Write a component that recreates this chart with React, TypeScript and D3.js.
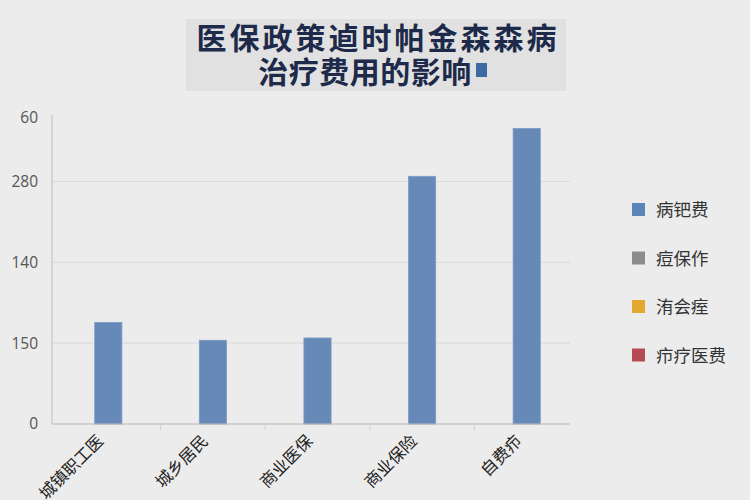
import React from 'react'
import * as d3 from 'd3'

// categories and bar values (in axis units, one gridline step = 140)
const categories = ['城镇职工医', '城乡居民', '商业医保', '商业保险', '自费疖']
const costs = [176, 145, 149, 429, 512]

// tick positions and the (odd) labels the chart shows at them
const tickValues = [0, 140, 280, 420, 530]
const tickLabels = ['0', '150', '140', '280', '60']

const legendNames = ['病钯费', '痘保作', '洧会痓', '疖疗医费']
const legendColors = ['#5b84b8', '#8c8c8c', '#e3a82e', '#b54a55']

const titleLines = ['医保政策逌时帕金森森病', '治疗费用的影响']

const W = 750
const H = 500
const margin = { top: 118, right: 171, bottom: 76, left: 52 }

const App: React.FC = () => {
  const y = d3
    .scaleLinear()
    .domain([0, 530])
    .range([H - margin.bottom, margin.top])
  const x = d3
    .scaleBand<string>()
    .domain(categories)
    .range([56, 579])
    .paddingInner(0.74)
    .paddingOuter(0.37)

  const y0 = y(0)
  const zh = 'Noto Sans CJK SC, sans-serif'

  return (
    <div style={{ position: 'fixed', left: 0, top: 0 }}>
      <svg width={W} height={H} style={{ display: 'block' }}>
        <rect width={W} height={H} fill='#ececec' />

        {/* title box */}
        <rect x={186} y={19} width={380} height={72} fill='#e1e1e1' />
        {titleLines.map((t, i) => (
          <text
            key={t}
            x={i === 0 ? 378 : 365}
            y={i === 0 ? 49 : 83}
            textAnchor='middle'
            fontFamily={zh}
            fontWeight={700}
            fontSize={30}
            letterSpacing={i === 0 ? 3 : 0.5}
            fill='#1d2a4a'
          >
            {t}
          </text>
        ))}
        <rect x={476} y={63} width={11} height={14} fill='#3e6aa3' />

        {/* gridlines */}
        {tickValues.slice(1, 4).map((v) => (
          <line
            key={v}
            x1={margin.left}
            x2={570}
            y1={y(v)}
            y2={y(v)}
            stroke='#dcdcdc'
            strokeWidth={1.2}
          />
        ))}

        {/* y axis */}
        <line x1={margin.left} x2={margin.left} y1={115} y2={y0} stroke='#bdbdbd' />
        {tickValues.map((v, i) => (
          <text
            key={v}
            x={38}
            y={y(v)}
            dy='0.35em'
            textAnchor='end'
            fontFamily='Open Sans, sans-serif'
            fontSize={15.5}
            fill='#555'
          >
            {tickLabels[i]}
          </text>
        ))}

        {/* bars */}
        {categories.map((c, i) => (
          <rect
            key={c}
            x={x(c)}
            y={y(costs[i])}
            width={x.bandwidth()}
            height={y0 - y(costs[i])}
            fill='#6689b8'
            stroke='#7d9cc4'
            strokeWidth={0.8}
          />
        ))}

        {/* x axis */}
        <line x1={margin.left} x2={570} y1={y0} y2={y0} stroke='#b5b5b5' strokeWidth={1.2} />
        {categories.slice(1).map((c) => (
          <line
            key={c}
            x1={(x(c) as number) - x.step() * 0.37}
            x2={(x(c) as number) - x.step() * 0.37}
            y1={y0}
            y2={y0 + 6}
            stroke='#d0d0d0'
          />
        ))}
        {categories.map((c) => {
          const cx = (x(c) as number) + x.bandwidth() / 2 - 12
          const cy = y0 + 10
          return (
            <text
              key={c}
              transform={`translate(${cx},${cy}) rotate(-45)`}
              textAnchor='end'
              dy='0.7em'
              fontFamily={zh}
              fontSize={16.5}
              fill='#222'
            >
              {c}
            </text>
          )
        })}

        {/* legend */}
        {legendNames.map((n, i) => {
          const ly = 210 + i * 48.5
          return (
            <g key={n}>
              <rect x={632} y={ly - 7} width={13} height={13} fill={legendColors[i]} />
              <text
                x={656}
                y={ly}
                dy='0.35em'
                fontFamily={zh}
                fontSize={17.5}
                fill='#333'
              >
                {n}
              </text>
            </g>
          )
        })}
      </svg>
    </div>
  )
}

export default App
